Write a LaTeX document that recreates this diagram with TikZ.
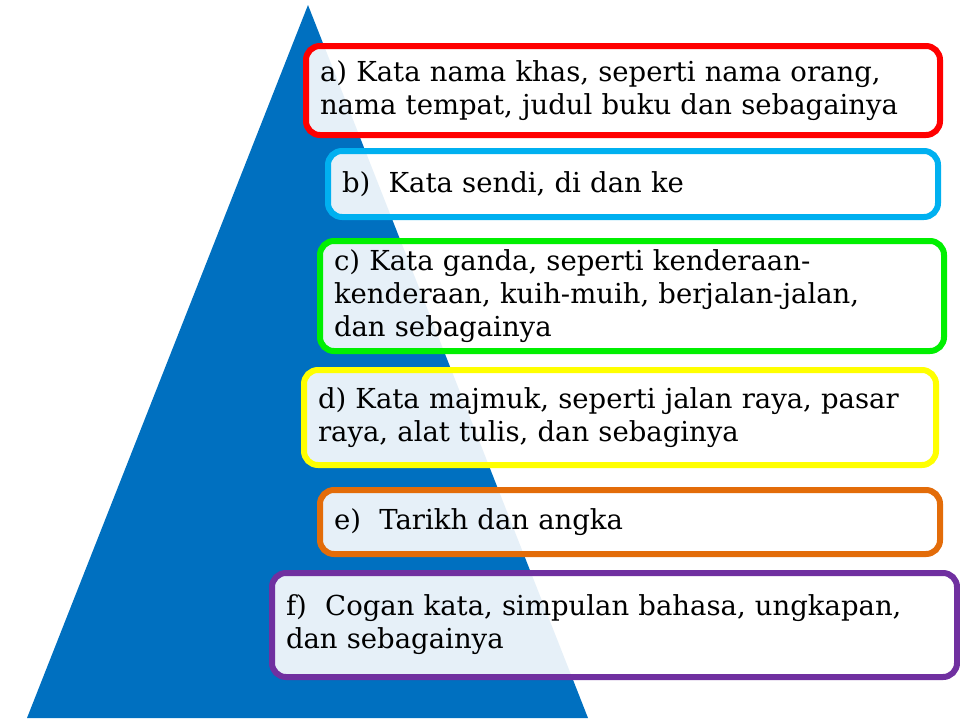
\documentclass[tikz,border=0pt]{standalone}
\usepackage{fontspec}
\setmainfont{DejaVu Serif}
\usetikzlibrary{positioning}
\definecolor{piramid}{HTML}{0070C0}
\definecolor{merah}{HTML}{FF0000}
\definecolor{biru}{HTML}{00B0F0}
\definecolor{hijau}{HTML}{00F000}
\definecolor{kuning}{HTML}{FFFF00}
\definecolor{jingga}{HTML}{E36C09}
\definecolor{ungu}{HTML}{7030A0}
\tikzset{
  kotak/.style={
    rectangle,
    rounded corners=14pt,
    draw=#1, line width=6pt,
    fill=white, fill opacity=0.9, text opacity=1,
    align=left,
    inner xsep=14pt, inner ysep=0pt,
    font=\fontsize{27.5}{33}\selectfont},
}

\begin{document}
\begin{tikzpicture}[x=1pt,y=-1pt]
    \useasboundingbox (0,0) rectangle (960,720);
    % the pyramid behind
    \fill[piramid] (308,5) -- (588,718) -- (27,718) -- cycle;

    \node [kotak=merah, text width=606pt, minimum height=89pt] (khas) at (623,90.5)
        {a) Kata nama khas, seperti nama orang,\\nama tempat, judul buku dan sebagainya};
    \node [kotak=biru, text width=582pt, minimum height=66pt] (sendi) at (633,184)
        {b)\ \ Kata sendi, di dan ke};
    \node [kotak=hijau, text width=596pt, minimum height=110pt] (ganda) at (632,296)
        {c) Kata ganda, seperti kenderaan-\\kenderaan, kuih-muih, berjalan-jalan,\\dan sebagainya};
    \node [kotak=kuning, text width=604pt, minimum height=95pt] (majmuk) at (620,417.5)
        {d) Kata majmuk, seperti jalan raya, pasar\\raya, alat tulis, dan sebaginya};
    \node [kotak=jingga, text width=592pt, minimum height=64pt] (tarikh) at (630,522)
        {e)\ \ Tarikh dan angka};
    \node [kotak=ungu, text width=657pt, minimum height=104pt] (cogan) at (614.5,625)
        {f)\ \ Cogan kata, simpulan bahasa, ungkapan,\\dan sebagainya};

\end{tikzpicture}
\end{document}
